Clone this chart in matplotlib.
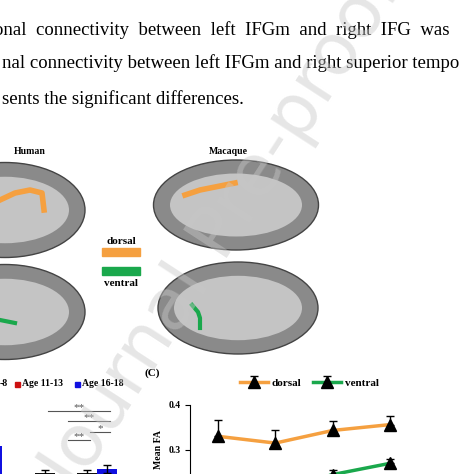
import matplotlib
matplotlib.use('Agg')
import matplotlib.pyplot as plt
from matplotlib.patches import Ellipse, Rectangle
import numpy as np

plt.rcParams['font.family'] = ['Liberation Serif', 'DejaVu Serif']

# panel C values
ages = [1, 2, 3, 4]
dorsal = [0.330, 0.315, 0.343, 0.356]
dorsal_err = [0.037, 0.028, 0.020, 0.020]
ventral = [0.205, 0.215, 0.245, 0.270]
ventral_err = [0.010, 0.010, 0.010, 0.010]

# panel B (partial) values
bar_x = [-8, 45, 87, 107]
bar_h = [0.38, 0.02, 0.02, 0.068]
bar_err = [0.0, 0.034, 0.034, 0.054]
bar_colors = ['#1010e0', '#111111', '#111111', '#1010e0']

orange = '#f5a040'
green = '#1aa84c'

fig = plt.figure(figsize=(4.74, 4.74), dpi=100)
bg = fig.add_axes([0, 0, 1, 1])
bg.set_xlim(0, 474)
bg.set_ylim(474, 0)
bg.axis('off')

# text lines from the paper
bg.text(-6, 35, "onal  connectivity  between  left  IFGm  and  right  IFG  was",
        fontsize=13.5, va='baseline')
bg.text(2, 68, "nal connectivity between left IFGm and right superior tempo",
        fontsize=13.5, va='baseline')
bg.text(2, 104, "sents the significant differences.", fontsize=13.5, va='baseline')

# brain panels
bg.text(30, 152, "Human", fontsize=7, fontweight='bold', ha='center', va='center')
bg.text(228, 152, "Macaque", fontsize=7, fontweight='bold', ha='center', va='center')
for cx, cy, w, h in [(5, 210, 160, 95), (236, 205, 165, 90), (5, 312, 160, 95), (238, 308, 160, 92)]:
    bg.add_patch(Ellipse((cx, cy), w, h, facecolor='#8a8a8a', edgecolor='#444444', lw=1))
    bg.add_patch(Ellipse((cx, cy), w * 0.8, h * 0.7, facecolor='#c4c4c4', edgecolor='none'))
bg.plot([0, 15, 30, 42, 44], [200, 193, 190, 193, 210], color=orange, lw=4)
bg.plot([185, 200, 220, 235], [195, 190, 186, 183], color=orange, lw=4)
bg.plot([0, 15], [320, 323], color=green, lw=3)
bg.plot([192, 198, 200, 200], [305, 312, 318, 328], color=green, lw=3)
bg.text(121, 241, "dorsal", fontsize=8, fontweight='bold', ha='center', va='center')
bg.add_patch(Rectangle((102, 248), 38, 8, color=orange))
bg.add_patch(Rectangle((102, 267), 38, 8, color=green))
bg.text(121, 283, "ventral", fontsize=8, fontweight='bold', ha='center', va='center')

bg.text(145, 373, "(C)", fontsize=8, fontweight='bold', va='center')
bg.text(0, 384, "-8", fontsize=7, fontweight='bold', va='center')
bg.add_patch(Rectangle((15, 382), 5, 5, color='#cc1010'))
bg.text(22, 384, "Age 11-13", fontsize=7, fontweight='bold', va='center')
bg.add_patch(Rectangle((75, 382), 5, 5, color='#1010e0'))
bg.text(82, 384, "Age 16-18", fontsize=7, fontweight='bold', va='center')

# significance lines
for x0, x1, y, s in [(48, 110, 411, '**'), (68, 110, 421, '**'), (90, 110, 432, '*'), (68, 90, 440, '**')]:
    bg.plot([x0, x1], [y, y], color='#555555', lw=0.8)
    bg.text((x0 + x1) / 2, y + 1, s, fontsize=8, ha='center', va='bottom', color='#555555')

# panel B partial bars
axb = fig.add_axes([0, 0, 160 / 474, 74 / 474])
axb.bar(bar_x, bar_h, width=20, color=bar_colors, yerr=bar_err, capsize=3,
        error_kw={'elinewidth': 1, 'ecolor': 'black'})
axb.set_xlim(0, 160)
axb.set_ylim(0, 1.0)
axb.axis('off')

# panel C line chart
axc = fig.add_axes([190 / 474, -0.044, 284 / 474, 0.19])
axc.errorbar(ages, dorsal, yerr=[np.zeros(4), dorsal_err], color=orange, lw=2.5,
             marker='^', ms=9, mfc='black', mec='black', ecolor='black', capsize=3,
             elinewidth=1, label='dorsal')
axc.errorbar(ages, ventral, yerr=[np.zeros(4), ventral_err], color=green, lw=2.5,
             marker='^', ms=9, mfc='black', mec='black', ecolor='black', capsize=3,
             elinewidth=1, label='ventral')
axc.set_xlim(0.512, 5.466)
axc.set_ylim(0.2, 0.4)
axc.set_yticks([0.3, 0.4])
axc.set_yticklabels(['0.3', '0.4'], fontweight='bold', fontsize=7)
axc.set_xticks([])
axc.spines['top'].set_visible(False)
axc.spines['right'].set_visible(False)
axc.spines['bottom'].set_visible(False)
axc.set_ylabel('Mean FA', fontsize=7, fontweight='bold')
axc.legend(loc='lower left', bbox_to_anchor=(0.14, 1.08), ncol=2, frameon=False,
           prop={'size': 8, 'weight': 'bold'}, handlelength=2.5, columnspacing=1,
           handletextpad=0.4)

# watermark
bg.text(225, 232, "Journal Pre-proof", fontsize=52, rotation=57, color='#c8c8c8',
        alpha=0.45, ha='center', va='center', family='DejaVu Sans', zorder=10)

fig.savefig('out.png', dpi=100)
